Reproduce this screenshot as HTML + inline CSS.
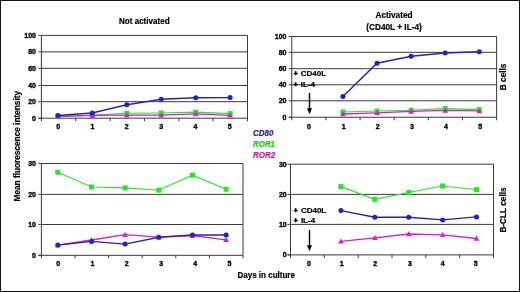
<!DOCTYPE html>
<html><head><meta charset="utf-8"><style>
html,body{margin:0;padding:0;background:#fff;}
#f{position:relative;width:520px;height:292px;overflow:hidden;background:#fff;}
#f svg{position:absolute;left:0;top:0;}
#f text{font-family:'Liberation Sans', Arial, sans-serif;font-weight:bold;stroke:currentColor;stroke-width:0.2px;}
#f text.n{stroke-width:0.35px;}
#f text.p{stroke-width:0.6px;}
#bd{position:absolute;left:0;top:0;width:520px;height:292px;box-sizing:border-box;border-style:solid;border-color:#141414;border-width:1px;}
</style></head><body><div id="f">
<svg width="520" height="292" viewBox="0 0 520 292">
<line x1="38.4" y1="118.2" x2="41.4" y2="118.2" stroke="#3a3a3a" stroke-width="1"/>
<text x="36" y="120.5" font-size="7.0" text-anchor="end" fill="#000" style="color:#000" class="n">0</text>
<line x1="41.4" y1="101.7" x2="247.5" y2="101.7" stroke="#3a3a3a" stroke-width="1"/>
<line x1="38.4" y1="101.7" x2="41.4" y2="101.7" stroke="#3a3a3a" stroke-width="1"/>
<text x="36" y="104.0" font-size="7.0" text-anchor="end" fill="#000" style="color:#000" class="n">20</text>
<line x1="41.4" y1="85.5" x2="247.5" y2="85.5" stroke="#3a3a3a" stroke-width="1"/>
<line x1="38.4" y1="85.5" x2="41.4" y2="85.5" stroke="#3a3a3a" stroke-width="1"/>
<text x="36" y="87.8" font-size="7.0" text-anchor="end" fill="#000" style="color:#000" class="n">40</text>
<line x1="41.4" y1="68.3" x2="247.5" y2="68.3" stroke="#3a3a3a" stroke-width="1"/>
<line x1="38.4" y1="68.3" x2="41.4" y2="68.3" stroke="#3a3a3a" stroke-width="1"/>
<text x="36" y="70.6" font-size="7.0" text-anchor="end" fill="#000" style="color:#000" class="n">60</text>
<line x1="41.4" y1="51.9" x2="247.5" y2="51.9" stroke="#3a3a3a" stroke-width="1"/>
<line x1="38.4" y1="51.9" x2="41.4" y2="51.9" stroke="#3a3a3a" stroke-width="1"/>
<text x="36" y="54.2" font-size="7.0" text-anchor="end" fill="#000" style="color:#000" class="n">80</text>
<line x1="41.4" y1="35.4" x2="247.5" y2="35.4" stroke="#3a3a3a" stroke-width="1"/>
<line x1="38.4" y1="35.4" x2="41.4" y2="35.4" stroke="#3a3a3a" stroke-width="1"/>
<text x="36" y="37.7" font-size="7.0" text-anchor="end" fill="#000" style="color:#000" class="n">100</text>
<line x1="41.4" y1="35.4" x2="41.4" y2="121.2" stroke="#3a3a3a" stroke-width="1"/>
<line x1="38.4" y1="118.2" x2="247.5" y2="118.2" stroke="#3a3a3a" stroke-width="1"/>
<line x1="247.5" y1="35.4" x2="247.5" y2="121.2" stroke="#3a3a3a" stroke-width="1"/>
<line x1="75.75" y1="118.2" x2="75.75" y2="121.2" stroke="#3a3a3a" stroke-width="1"/>
<line x1="110.1" y1="118.2" x2="110.1" y2="121.2" stroke="#3a3a3a" stroke-width="1"/>
<line x1="144.45" y1="118.2" x2="144.45" y2="121.2" stroke="#3a3a3a" stroke-width="1"/>
<line x1="178.8" y1="118.2" x2="178.8" y2="121.2" stroke="#3a3a3a" stroke-width="1"/>
<line x1="213.15" y1="118.2" x2="213.15" y2="121.2" stroke="#3a3a3a" stroke-width="1"/>
<text x="58.2" y="128.6" font-size="7.0" text-anchor="middle" fill="#000" style="color:#000" class="n">0</text>
<text x="92.5" y="128.6" font-size="7.0" text-anchor="middle" fill="#000" style="color:#000" class="n">1</text>
<text x="126.8" y="128.6" font-size="7.0" text-anchor="middle" fill="#000" style="color:#000" class="n">2</text>
<text x="161.2" y="128.6" font-size="7.0" text-anchor="middle" fill="#000" style="color:#000" class="n">3</text>
<text x="195.5" y="128.6" font-size="7.0" text-anchor="middle" fill="#000" style="color:#000" class="n">4</text>
<text x="229.8" y="128.6" font-size="7.0" text-anchor="middle" fill="#000" style="color:#000" class="n">5</text>
<polyline points="57.9,116.6 92.3,115.3 126.8,113.3 161.2,113.0 195.7,112.2 230.1,113.6" fill="none" stroke="#33dd33" stroke-width="1.15"/>
<rect x="55.4" y="114.1" width="5" height="5" fill="#22ea22"/>
<rect x="89.8" y="112.8" width="5" height="5" fill="#22ea22"/>
<rect x="124.3" y="110.8" width="5" height="5" fill="#22ea22"/>
<rect x="158.7" y="110.5" width="5" height="5" fill="#22ea22"/>
<rect x="193.2" y="109.7" width="5" height="5" fill="#22ea22"/>
<rect x="227.6" y="111.1" width="5" height="5" fill="#22ea22"/>
<polyline points="57.9,116.3 92.3,115.4 126.8,115.2 161.2,115.2 195.7,113.9 230.1,115.3" fill="none" stroke="#cc22c6" stroke-width="1.3"/>
<polygon points="57.9,113.4 60.699999999999996,118.6 55.1,118.6" fill="#e01cc8"/>
<polygon points="92.3,112.5 95.1,117.7 89.5,117.7" fill="#e01cc8"/>
<polygon points="126.8,112.3 129.60000000000002,117.5 124.0,117.5" fill="#e01cc8"/>
<polygon points="161.2,112.3 164.0,117.5 158.39999999999998,117.5" fill="#e01cc8"/>
<polygon points="195.7,111.0 198.5,116.2 192.89999999999998,116.2" fill="#e01cc8"/>
<polygon points="230.1,112.4 232.9,117.6 227.29999999999998,117.6" fill="#e01cc8"/>
<polyline points="57.9,115.5 92.3,113.0 126.8,104.8 161.2,99.2 195.7,97.7 230.1,97.6" fill="none" stroke="#2424a8" stroke-width="1.4"/>
<circle cx="57.9" cy="115.5" r="2.5" fill="#1e1ed8"/>
<circle cx="92.3" cy="113.0" r="2.5" fill="#1e1ed8"/>
<circle cx="126.8" cy="104.8" r="2.5" fill="#1e1ed8"/>
<circle cx="161.2" cy="99.2" r="2.5" fill="#1e1ed8"/>
<circle cx="195.7" cy="97.7" r="2.5" fill="#1e1ed8"/>
<circle cx="230.1" cy="97.6" r="2.5" fill="#1e1ed8"/>
<line x1="288.8" y1="117.25" x2="291.8" y2="117.25" stroke="#3a3a3a" stroke-width="1"/>
<text x="286.5" y="119.55" font-size="7.0" text-anchor="end" fill="#000" style="color:#000" class="n">0</text>
<line x1="291.8" y1="100.8" x2="496.6" y2="100.8" stroke="#3a3a3a" stroke-width="1"/>
<line x1="288.8" y1="100.8" x2="291.8" y2="100.8" stroke="#3a3a3a" stroke-width="1"/>
<text x="286.5" y="103.1" font-size="7.0" text-anchor="end" fill="#000" style="color:#000" class="n">20</text>
<line x1="291.8" y1="84.8" x2="496.6" y2="84.8" stroke="#3a3a3a" stroke-width="1"/>
<line x1="288.8" y1="84.8" x2="291.8" y2="84.8" stroke="#3a3a3a" stroke-width="1"/>
<text x="286.5" y="87.1" font-size="7.0" text-anchor="end" fill="#000" style="color:#000" class="n">40</text>
<line x1="291.8" y1="68.7" x2="496.6" y2="68.7" stroke="#3a3a3a" stroke-width="1"/>
<line x1="288.8" y1="68.7" x2="291.8" y2="68.7" stroke="#3a3a3a" stroke-width="1"/>
<text x="286.5" y="71.0" font-size="7.0" text-anchor="end" fill="#000" style="color:#000" class="n">60</text>
<line x1="291.8" y1="52.3" x2="496.6" y2="52.3" stroke="#3a3a3a" stroke-width="1"/>
<line x1="288.8" y1="52.3" x2="291.8" y2="52.3" stroke="#3a3a3a" stroke-width="1"/>
<text x="286.5" y="54.6" font-size="7.0" text-anchor="end" fill="#000" style="color:#000" class="n">80</text>
<line x1="291.8" y1="36.5" x2="496.6" y2="36.5" stroke="#3a3a3a" stroke-width="1"/>
<line x1="288.8" y1="36.5" x2="291.8" y2="36.5" stroke="#3a3a3a" stroke-width="1"/>
<text x="286.5" y="38.8" font-size="7.0" text-anchor="end" fill="#000" style="color:#000" class="n">100</text>
<line x1="291.8" y1="36.5" x2="291.8" y2="120.25" stroke="#3a3a3a" stroke-width="1"/>
<line x1="288.8" y1="117.25" x2="496.6" y2="117.25" stroke="#3a3a3a" stroke-width="1"/>
<line x1="496.6" y1="36.5" x2="496.6" y2="120.25" stroke="#3a3a3a" stroke-width="1"/>
<line x1="325.93" y1="117.25" x2="325.93" y2="120.25" stroke="#3a3a3a" stroke-width="1"/>
<line x1="360.07" y1="117.25" x2="360.07" y2="120.25" stroke="#3a3a3a" stroke-width="1"/>
<line x1="394.2" y1="117.25" x2="394.2" y2="120.25" stroke="#3a3a3a" stroke-width="1"/>
<line x1="428.33" y1="117.25" x2="428.33" y2="120.25" stroke="#3a3a3a" stroke-width="1"/>
<line x1="462.47" y1="117.25" x2="462.47" y2="120.25" stroke="#3a3a3a" stroke-width="1"/>
<text x="309" y="128.8" font-size="7.0" text-anchor="middle" fill="#000" style="color:#000" class="n">0</text>
<text x="343.7" y="128.8" font-size="7.0" text-anchor="middle" fill="#000" style="color:#000" class="n">1</text>
<text x="377.6" y="128.8" font-size="7.0" text-anchor="middle" fill="#000" style="color:#000" class="n">2</text>
<text x="412" y="128.8" font-size="7.0" text-anchor="middle" fill="#000" style="color:#000" class="n">3</text>
<text x="445.9" y="128.8" font-size="7.0" text-anchor="middle" fill="#000" style="color:#000" class="n">4</text>
<text x="480.2" y="128.8" font-size="7.0" text-anchor="middle" fill="#000" style="color:#000" class="n">5</text>
<polyline points="342.9,112 377.0,111 411.1,110.2 445.2,108.6 479.3,109.6" fill="none" stroke="#33dd33" stroke-width="1.15"/>
<rect x="340.4" y="109.5" width="5" height="5" fill="#22ea22"/>
<rect x="374.5" y="108.5" width="5" height="5" fill="#22ea22"/>
<rect x="408.6" y="107.7" width="5" height="5" fill="#22ea22"/>
<rect x="442.7" y="106.1" width="5" height="5" fill="#22ea22"/>
<rect x="476.8" y="107.1" width="5" height="5" fill="#22ea22"/>
<polyline points="342.9,114 377.0,112.8 411.1,111.4 445.2,110.4 479.3,110.9" fill="none" stroke="#cc22c6" stroke-width="1.3"/>
<polygon points="342.9,111.1 345.7,116.3 340.09999999999997,116.3" fill="#e01cc8"/>
<polygon points="377.0,109.9 379.8,115.1 374.2,115.1" fill="#e01cc8"/>
<polygon points="411.1,108.5 413.90000000000003,113.7 408.3,113.7" fill="#e01cc8"/>
<polygon points="445.2,107.5 448.0,112.7 442.4,112.7" fill="#e01cc8"/>
<polygon points="479.3,108.0 482.1,113.2 476.5,113.2" fill="#e01cc8"/>
<polyline points="342.9,96.6 377.0,63.2 411.1,56.3 445.2,53.0 479.3,51.7" fill="none" stroke="#2424a8" stroke-width="1.4"/>
<circle cx="342.9" cy="96.6" r="2.5" fill="#1e1ed8"/>
<circle cx="377.0" cy="63.2" r="2.5" fill="#1e1ed8"/>
<circle cx="411.1" cy="56.3" r="2.5" fill="#1e1ed8"/>
<circle cx="445.2" cy="53.0" r="2.5" fill="#1e1ed8"/>
<circle cx="479.3" cy="51.7" r="2.5" fill="#1e1ed8"/>
<line x1="38.4" y1="255.3" x2="41.4" y2="255.3" stroke="#3a3a3a" stroke-width="1"/>
<text x="36" y="257.6" font-size="7.0" text-anchor="end" fill="#000" style="color:#000" class="n">0</text>
<line x1="41.4" y1="224.5" x2="243.0" y2="224.5" stroke="#3a3a3a" stroke-width="1"/>
<line x1="38.4" y1="224.5" x2="41.4" y2="224.5" stroke="#3a3a3a" stroke-width="1"/>
<text x="36" y="226.8" font-size="7.0" text-anchor="end" fill="#000" style="color:#000" class="n">10</text>
<line x1="41.4" y1="194.4" x2="243.0" y2="194.4" stroke="#3a3a3a" stroke-width="1"/>
<line x1="38.4" y1="194.4" x2="41.4" y2="194.4" stroke="#3a3a3a" stroke-width="1"/>
<text x="36" y="196.7" font-size="7.0" text-anchor="end" fill="#000" style="color:#000" class="n">20</text>
<line x1="41.4" y1="163.5" x2="243.0" y2="163.5" stroke="#3a3a3a" stroke-width="1"/>
<line x1="38.4" y1="163.5" x2="41.4" y2="163.5" stroke="#3a3a3a" stroke-width="1"/>
<text x="36" y="165.8" font-size="7.0" text-anchor="end" fill="#000" style="color:#000" class="n">30</text>
<line x1="41.4" y1="163.5" x2="41.4" y2="258.3" stroke="#3a3a3a" stroke-width="1"/>
<line x1="38.4" y1="255.3" x2="243.0" y2="255.3" stroke="#3a3a3a" stroke-width="1"/>
<line x1="243.0" y1="163.5" x2="243.0" y2="258.3" stroke="#3a3a3a" stroke-width="1"/>
<line x1="75.0" y1="255.3" x2="75.0" y2="258.3" stroke="#3a3a3a" stroke-width="1"/>
<line x1="108.6" y1="255.3" x2="108.6" y2="258.3" stroke="#3a3a3a" stroke-width="1"/>
<line x1="142.2" y1="255.3" x2="142.2" y2="258.3" stroke="#3a3a3a" stroke-width="1"/>
<line x1="175.8" y1="255.3" x2="175.8" y2="258.3" stroke="#3a3a3a" stroke-width="1"/>
<line x1="209.4" y1="255.3" x2="209.4" y2="258.3" stroke="#3a3a3a" stroke-width="1"/>
<text x="58.2" y="265.7" font-size="7.0" text-anchor="middle" fill="#000" style="color:#000" class="n">0</text>
<text x="92.5" y="265.7" font-size="7.0" text-anchor="middle" fill="#000" style="color:#000" class="n">1</text>
<text x="126.8" y="265.7" font-size="7.0" text-anchor="middle" fill="#000" style="color:#000" class="n">2</text>
<text x="161.2" y="265.7" font-size="7.0" text-anchor="middle" fill="#000" style="color:#000" class="n">3</text>
<text x="195.3" y="265.7" font-size="7.0" text-anchor="middle" fill="#000" style="color:#000" class="n">4</text>
<text x="229.5" y="265.7" font-size="7.0" text-anchor="middle" fill="#000" style="color:#000" class="n">5</text>
<polyline points="57.8,172.3 91.5,187.0 125.1,187.9 158.8,190.2 192.4,175.2 226.1,189.3" fill="none" stroke="#33dd33" stroke-width="1.15"/>
<rect x="55.3" y="169.8" width="5" height="5" fill="#22ea22"/>
<rect x="89.0" y="184.5" width="5" height="5" fill="#22ea22"/>
<rect x="122.6" y="185.4" width="5" height="5" fill="#22ea22"/>
<rect x="156.3" y="187.7" width="5" height="5" fill="#22ea22"/>
<rect x="189.9" y="172.7" width="5" height="5" fill="#22ea22"/>
<rect x="223.6" y="186.8" width="5" height="5" fill="#22ea22"/>
<polyline points="57.8,245.2 91.5,240.0 125.1,234.7 158.8,237.2 192.4,235.5 226.1,239.8" fill="none" stroke="#cc22c6" stroke-width="1.3"/>
<polygon points="57.8,242.3 60.599999999999994,247.5 55.0,247.5" fill="#e01cc8"/>
<polygon points="91.5,237.1 94.3,242.3 88.7,242.3" fill="#e01cc8"/>
<polygon points="125.1,231.8 127.89999999999999,237.0 122.3,237.0" fill="#e01cc8"/>
<polygon points="158.8,234.3 161.60000000000002,239.5 156.0,239.5" fill="#e01cc8"/>
<polygon points="192.4,232.6 195.20000000000002,237.8 189.6,237.8" fill="#e01cc8"/>
<polygon points="226.1,236.9 228.9,242.1 223.29999999999998,242.1" fill="#e01cc8"/>
<polyline points="57.8,245.1 91.5,241.4 125.1,244.1 158.8,237.2 192.4,235.0 226.1,235.0" fill="none" stroke="#2424a8" stroke-width="1.4"/>
<circle cx="57.8" cy="245.1" r="2.5" fill="#1e1ed8"/>
<circle cx="91.5" cy="241.4" r="2.5" fill="#1e1ed8"/>
<circle cx="125.1" cy="244.1" r="2.5" fill="#1e1ed8"/>
<circle cx="158.8" cy="237.2" r="2.5" fill="#1e1ed8"/>
<circle cx="192.4" cy="235.0" r="2.5" fill="#1e1ed8"/>
<circle cx="226.1" cy="235.0" r="2.5" fill="#1e1ed8"/>
<line x1="287.5" y1="254.9" x2="290.5" y2="254.9" stroke="#3a3a3a" stroke-width="1"/>
<text x="286.7" y="257.2" font-size="7.0" text-anchor="end" fill="#000" style="color:#000" class="n">0</text>
<line x1="290.5" y1="224.4" x2="493.5" y2="224.4" stroke="#3a3a3a" stroke-width="1"/>
<line x1="287.5" y1="224.4" x2="290.5" y2="224.4" stroke="#3a3a3a" stroke-width="1"/>
<text x="286.7" y="226.7" font-size="7.0" text-anchor="end" fill="#000" style="color:#000" class="n">10</text>
<line x1="290.5" y1="194.4" x2="493.5" y2="194.4" stroke="#3a3a3a" stroke-width="1"/>
<line x1="287.5" y1="194.4" x2="290.5" y2="194.4" stroke="#3a3a3a" stroke-width="1"/>
<text x="286.7" y="196.7" font-size="7.0" text-anchor="end" fill="#000" style="color:#000" class="n">20</text>
<line x1="290.5" y1="164.2" x2="493.5" y2="164.2" stroke="#3a3a3a" stroke-width="1"/>
<line x1="287.5" y1="164.2" x2="290.5" y2="164.2" stroke="#3a3a3a" stroke-width="1"/>
<text x="286.7" y="166.5" font-size="7.0" text-anchor="end" fill="#000" style="color:#000" class="n">30</text>
<line x1="290.5" y1="164.2" x2="290.5" y2="257.9" stroke="#3a3a3a" stroke-width="1"/>
<line x1="287.5" y1="254.9" x2="493.5" y2="254.9" stroke="#3a3a3a" stroke-width="1"/>
<line x1="493.5" y1="164.2" x2="493.5" y2="257.9" stroke="#3a3a3a" stroke-width="1"/>
<line x1="324.33" y1="254.9" x2="324.33" y2="257.9" stroke="#3a3a3a" stroke-width="1"/>
<line x1="358.17" y1="254.9" x2="358.17" y2="257.9" stroke="#3a3a3a" stroke-width="1"/>
<line x1="392.0" y1="254.9" x2="392.0" y2="257.9" stroke="#3a3a3a" stroke-width="1"/>
<line x1="425.83" y1="254.9" x2="425.83" y2="257.9" stroke="#3a3a3a" stroke-width="1"/>
<line x1="459.67" y1="254.9" x2="459.67" y2="257.9" stroke="#3a3a3a" stroke-width="1"/>
<text x="309" y="265.7" font-size="7.0" text-anchor="middle" fill="#000" style="color:#000" class="n">0</text>
<text x="341.7" y="265.7" font-size="7.0" text-anchor="middle" fill="#000" style="color:#000" class="n">1</text>
<text x="375.2" y="265.7" font-size="7.0" text-anchor="middle" fill="#000" style="color:#000" class="n">2</text>
<text x="410" y="265.7" font-size="7.0" text-anchor="middle" fill="#000" style="color:#000" class="n">3</text>
<text x="442.7" y="265.7" font-size="7.0" text-anchor="middle" fill="#000" style="color:#000" class="n">4</text>
<text x="475.8" y="265.7" font-size="7.0" text-anchor="middle" fill="#000" style="color:#000" class="n">5</text>
<polyline points="340.9,186.6 374.8,199.3 408.7,192.5 442.6,186.0 476.5,189.7" fill="none" stroke="#33dd33" stroke-width="1.15"/>
<rect x="338.4" y="184.1" width="5" height="5" fill="#22ea22"/>
<rect x="372.3" y="196.8" width="5" height="5" fill="#22ea22"/>
<rect x="406.2" y="190.0" width="5" height="5" fill="#22ea22"/>
<rect x="440.1" y="183.5" width="5" height="5" fill="#22ea22"/>
<rect x="474.0" y="187.2" width="5" height="5" fill="#22ea22"/>
<polyline points="340.9,241.3 374.8,237.8 408.7,234 442.6,234.8 476.5,238.5" fill="none" stroke="#cc22c6" stroke-width="1.3"/>
<polygon points="340.9,238.4 343.7,243.6 338.09999999999997,243.6" fill="#e01cc8"/>
<polygon points="374.8,234.9 377.6,240.1 372.0,240.1" fill="#e01cc8"/>
<polygon points="408.7,231.1 411.5,236.3 405.9,236.3" fill="#e01cc8"/>
<polygon points="442.6,231.9 445.40000000000003,237.1 439.8,237.1" fill="#e01cc8"/>
<polygon points="476.5,235.6 479.3,240.8 473.7,240.8" fill="#e01cc8"/>
<polyline points="340.9,210.6 374.8,217.3 408.7,217.3 442.6,219.9 476.5,216.9" fill="none" stroke="#2424a8" stroke-width="1.4"/>
<circle cx="340.9" cy="210.6" r="2.5" fill="#1e1ed8"/>
<circle cx="374.8" cy="217.3" r="2.5" fill="#1e1ed8"/>
<circle cx="408.7" cy="217.3" r="2.5" fill="#1e1ed8"/>
<circle cx="442.6" cy="219.9" r="2.5" fill="#1e1ed8"/>
<circle cx="476.5" cy="216.9" r="2.5" fill="#1e1ed8"/>
<text x="295.6" y="76.0" font-size="6.6" text-anchor="middle" fill="#000" style="color:#000" class="p">+</text>
<text x="295.6" y="86.5" font-size="6.6" text-anchor="middle" fill="#000" style="color:#000" class="p">+</text>
<text x="300.7" y="75.9" font-size="8.0" text-anchor="start" fill="#000" style="color:#000" >CD40L</text>
<text x="300.7" y="86.7" font-size="8.0" text-anchor="start" fill="#000" style="color:#000" >IL-4</text>
<line x1="309.5" y1="93" x2="309.5" y2="110.3" stroke="#000" stroke-width="1.4"/>
<polygon points="307,108.3 312,108.3 309.5,114.3" fill="#000"/>
<text x="295.8" y="213.0" font-size="6.6" text-anchor="middle" fill="#000" style="color:#000" class="p">+</text>
<text x="295.8" y="223.2" font-size="6.6" text-anchor="middle" fill="#000" style="color:#000" class="p">+</text>
<text x="300.9" y="212.9" font-size="8.0" text-anchor="start" fill="#000" style="color:#000" >CD40L</text>
<text x="300.9" y="223.4" font-size="8.0" text-anchor="start" fill="#000" style="color:#000" >IL-4</text>
<line x1="309.5" y1="230" x2="309.5" y2="247.3" stroke="#000" stroke-width="1.4"/>
<polygon points="307,245.3 312,245.3 309.5,251.3" fill="#000"/>
<text x="144.3" y="24.0" font-size="8.25" text-anchor="middle" fill="#000" style="color:#000" textLength="50.6" lengthAdjust="spacingAndGlyphs">Not activated</text>
<text x="394" y="18.2" font-size="8.25" text-anchor="middle" fill="#000" style="color:#000" >Activated</text>
<text x="394" y="29.5" font-size="8.25" text-anchor="middle" fill="#000" style="color:#000" >(CD40L + IL-4)</text>
<text x="266.2" y="278" font-size="8.25" text-anchor="middle" fill="#000" style="color:#000" textLength="57.4" lengthAdjust="spacingAndGlyphs">Days in culture</text>
<text transform="translate(19.8,146.2) rotate(-90)" font-size="8.25" text-anchor="middle">Mean fluorescence intensity</text>
<text transform="translate(506.2,76.9) rotate(-90)" font-size="8.25" text-anchor="middle">B cells</text>
<text transform="translate(506.3,210) rotate(-90)" font-size="8.25" text-anchor="middle">B-CLL cells</text>
<text x="253.0" y="135.7" font-size="8.25" text-anchor="start" fill="#2222b0" style="color:#2222b0" font-style="italic" textLength="20.4" lengthAdjust="spacingAndGlyphs">CD80</text>
<text x="253.0" y="147.3" font-size="8.25" text-anchor="start" fill="#22cc22" style="color:#22cc22" font-style="italic" textLength="22.0" lengthAdjust="spacingAndGlyphs">ROR1</text>
<text x="253.0" y="158.3" font-size="8.25" text-anchor="start" fill="#cc1aa8" style="color:#cc1aa8" font-style="italic" textLength="22.3" lengthAdjust="spacingAndGlyphs">ROR2</text>
</svg><div id="bd"></div></div></body></html>
